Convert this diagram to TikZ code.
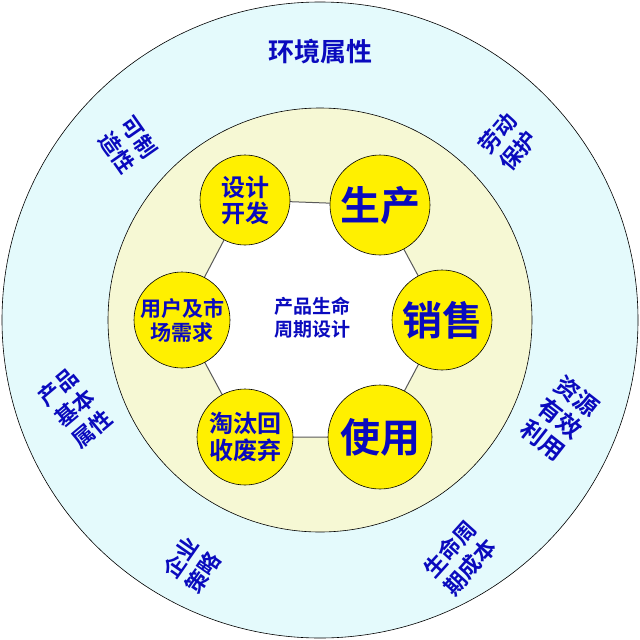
\documentclass[tikz,border=0pt]{standalone}
\usepackage{fontspec}
\newfontfamily\cjk{Noto Sans CJK SC}[BoldFont={Noto Sans CJK SC Bold}]
\definecolor{outerc}{RGB}{228,250,252}
\definecolor{innerc}{RGB}{246,248,212}
\definecolor{yel}{RGB}{255,240,0}
\definecolor{txt}{RGB}{10,10,190}
\begin{document}
\begin{tikzpicture}[x=1pt,y=-1pt,
  t/.style={text=txt,font=\cjk\bfseries,align=center,inner sep=0pt},
  ball/.style={circle,draw=black,fill=yel,line width=0.6pt,t}]
\useasboundingbox (0,0) rectangle (640,640);
\fill[white] (0,0) rectangle (640,640);
\node[circle,draw=black,fill=outerc,minimum size=636pt,line width=0.6pt] (outer) at (320,320) {};
\node[circle,draw=black,fill=innerc,minimum size=424pt,line width=0.6pt] (inner) at (320,320) {};
\coordinate (p1) at (245,200);
\coordinate (p2) at (380,205);
\coordinate (p3) at (442,320);
\coordinate (p4) at (380,437);
\coordinate (p5) at (245,437);
\coordinate (p6) at (182,320);
\draw[fill=white,draw=gray!70!black,line width=1pt] (p1)--(p2)--(p3)--(p4)--(p5)--(p6)--cycle;
\node[ball,minimum size=90pt,font=\cjk\bfseries\fontsize{24}{26}\selectfont] (a) at (p1) {设计\\开发};
\node[ball,minimum size=100pt,font=\cjk\bfseries\fontsize{40}{42}\selectfont] (b) at (p2) {生产};
\node[ball,minimum size=100pt,font=\cjk\bfseries\fontsize{40}{42}\selectfont] (c) at (p3) {销售};
\node[ball,minimum size=104pt,font=\cjk\bfseries\fontsize{40}{42}\selectfont] (d) at (p4) {使用};
\node[ball,minimum size=96pt,font=\cjk\bfseries\fontsize{24}{27}\selectfont] (e) at (p5) {淘汰回\\收废弃};
\node[ball,minimum size=96pt,font=\cjk\bfseries\fontsize{21}{24}\selectfont] (f) at (p6) {用户及市\\场需求};
\node[t,font=\cjk\bfseries\fontsize{19}{23}\selectfont] (ctr) at (312,318) {产品生命\\周期设计};
\node[t,font=\cjk\bfseries\fontsize{26}{28}\selectfont] (l1) at (320,52) {环境属性};
\node[t,font=\cjk\bfseries\fontsize{22}{27}\selectfont,rotate=-55] (l2) at (128,145) {可制\\造性};
\node[t,font=\cjk\bfseries\fontsize{22}{27}\selectfont,rotate=50] (l3) at (508,142) {劳动\\保护};
\node[t,font=\cjk\bfseries\fontsize{24}{28}\selectfont,rotate=-38] (l4) at (560,418) {资源\\有效\\利用};
\node[t,font=\cjk\bfseries\fontsize{22}{27}\selectfont,rotate=40] (l5) at (75,408) {产品\\基本\\属性};
\node[t,font=\cjk\bfseries\fontsize{22}{27}\selectfont,rotate=55] (l6) at (192,565) {企业\\策略};
\node[t,font=\cjk\bfseries\fontsize{22}{27}\selectfont,rotate=48] (l7) at (460,558) {生命周\\期成本};
\end{tikzpicture}
\end{document}
